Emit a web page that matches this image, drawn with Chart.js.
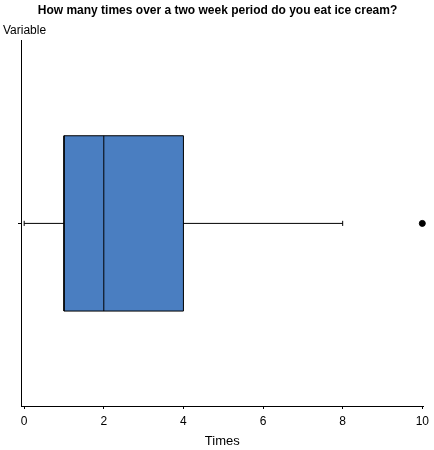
<!DOCTYPE html>
<html>
<head>
    <title>Ice Cream Boxplot</title>
    <script src="https://cdn.jsdelivr.net/npm/chart.js@4.4.0/dist/chart.umd.min.js"></script>
    <style>
        body { margin: 0; background: #fff; }
        #wrap { width: 434px; height: 450px; }
    </style>
</head>
<body>
    <div id="wrap"><canvas id="box"></canvas></div>
    <script>
        // Five number summary
        const whiskerLow = 0;
        const q1 = 1;
        const median = 2;
        const q3 = 4;
        const whiskerHigh = 8;
        const outliers = [10];
        const xTicks = [0, 2, 4, 6, 8, 10];

        // box placement on the hidden 0..1 y scale
        const mid = 0.5;
        const half = 0.24;
        const cap = 0.007;

        const blue = '#4A7EC1';
        const font = 'Liberation Sans, Arial, sans-serif';

        new Chart(document.getElementById('box'), {
            type: 'scatter',
            data: {
                datasets: [
                    {   // median
                        data: [{x: median, y: mid - half}, {x: median, y: mid + half}],
                        showLine: true, borderColor: '#000', borderWidth: 1, pointRadius: 0, order: 0
                    },
                    {   // box
                        data: [
                            {x: q1, y: mid - half}, {x: q3, y: mid - half},
                            {x: q3, y: mid + half}, {x: q1, y: mid + half},
                            {x: q1, y: mid - half}
                        ],
                        showLine: true, fill: 'shape', backgroundColor: blue,
                        borderColor: '#000', borderWidth: 1, pointRadius: 0, order: 1
                    },
                    {   // whisker line
                        data: [{x: whiskerLow, y: mid}, {x: whiskerHigh, y: mid}],
                        showLine: true, borderColor: '#000', borderWidth: 1, pointRadius: 0, order: 2
                    },
                    {   // low cap
                        data: [{x: whiskerLow, y: mid - cap}, {x: whiskerLow, y: mid + cap}],
                        showLine: true, borderColor: '#000', borderWidth: 1, pointRadius: 0, order: 2
                    },
                    {   // high cap
                        data: [{x: whiskerHigh, y: mid - cap}, {x: whiskerHigh, y: mid + cap}],
                        showLine: true, borderColor: '#000', borderWidth: 1, pointRadius: 0, order: 2
                    },
                    {   // outliers
                        data: outliers.map(v => ({x: v, y: mid})),
                        pointRadius: 3, pointBackgroundColor: '#000', pointBorderColor: '#000',
                        clip: false, order: 0
                    }
                ]
            },
            options: {
                responsive: true,
                maintainAspectRatio: false,
                animation: false,
                layout: { padding: { left: 3, right: 2, top: 0, bottom: 1 } },
                plugins: {
                    legend: { display: false },
                    tooltip: { enabled: false },
                    title: {
                        display: true,
                        text: 'How many times over a two week period do you eat ice cream?',
                        color: '#000',
                        font: { family: font, size: 12, weight: 'bold' },
                        padding: { top: 3, bottom: 6 }
                    },
                    subtitle: {
                        display: true,
                        text: 'Variable',
                        align: 'start',
                        color: '#000',
                        font: { family: font, size: 12 },
                        padding: { top: 0, bottom: 3 }
                    }
                },
                scales: {
                    x: {
                        type: 'linear',
                        min: -0.08,
                        max: 10.03,
                        afterBuildTicks: axis => { axis.ticks = xTicks.map(v => ({value: v})); },
                        grid: { display: true, drawOnChartArea: false, drawTicks: true, tickLength: 3, color: '#000' },
                        border: { display: true, color: '#000', width: 1 },
                        ticks: { color: '#000', font: { family: font, size: 12 }, padding: 5, maxRotation: 0 },
                        title: { display: true, text: 'Times', color: '#000', font: { family: font, size: 13 }, padding: { top: 0, bottom: 0 } }
                    },
                    y: {
                        type: 'linear',
                        min: 0,
                        max: 1,
                        afterBuildTicks: axis => { axis.ticks = [{value: mid}]; },
                        afterFit: axis => { axis.width = 18; },
                        grid: { display: true, drawOnChartArea: false, drawTicks: true, tickLength: 3, color: '#000' },
                        border: { display: true, color: '#000', width: 1 },
                        ticks: { callback: () => '', padding: 0 }
                    }
                }
            }
        });
    </script>
</body>
</html>
